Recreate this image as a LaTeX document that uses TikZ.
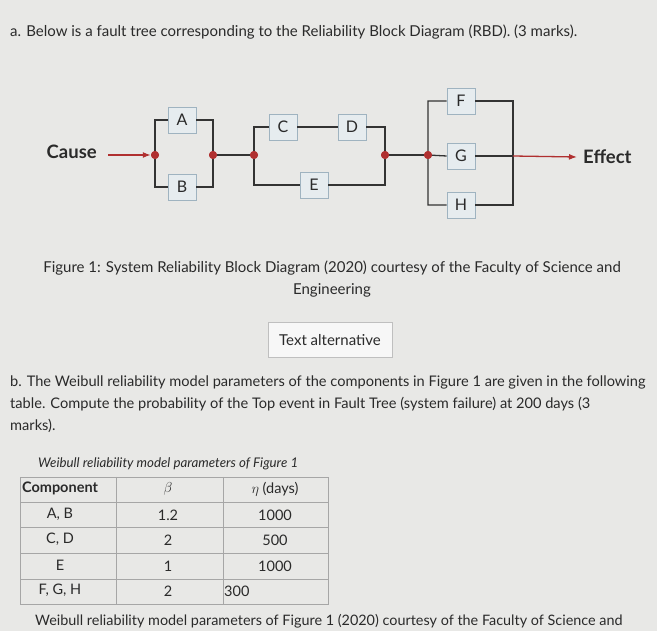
\documentclass[tikz,border=0pt]{standalone}
\usepackage{fontspec}
\setmainfont{Lato}
\usetikzlibrary{arrows.meta}
\definecolor{bg}{HTML}{E8E8E6}
\definecolor{boxf}{HTML}{E6ECEF}
\definecolor{boxd}{HTML}{9FB3C0}
\definecolor{ln}{HTML}{333333}
\definecolor{rd}{HTML}{B03030}
\definecolor{tx}{HTML}{2A2A2A}
\begin{document}
\begin{tikzpicture}[x=1pt,y=-1pt,
  comp/.style={draw=boxd,fill=boxf,line width=0.9pt,minimum width=28pt,minimum height=26pt,inner sep=0pt,font=\fontsize{16}{16}\selectfont,text=tx},
  jn/.style={circle,fill=rd,inner sep=0pt,minimum size=8pt},
  wire/.style={draw=ln,line width=1.3pt},
  body/.style={font=\fontsize{15}{22}\selectfont,text=tx,inner sep=0pt},
  cell/.style={font=\fontsize{14.5}{16}\selectfont,text=tx,inner sep=0pt}]
\fill[bg] (0,0) rectangle (657,631);
\useasboundingbox (0,0) rectangle (657,631);
\node[body,anchor=west] (qa) at (10,32) {a. Below is a fault tree corresponding to the Reliability Block Diagram (RBD). (3 marks).};
% RBD
\node[body,anchor=east,font=\fontsize{18.5}{20}\bfseries\selectfont] (cause) at (97,152) {Cause};
\node[jn] (j1) at (155,155) {};
\node[comp] (A) at (182,120) {A};
\node[comp] (B) at (182,187) {B};
\node[jn] (j2) at (213,155) {};
\node[jn] (j3) at (254,155) {};
\node[comp] (C) at (283,127) {C};
\node[comp] (D) at (352,127) {D};
\node[comp] (E) at (314,185) {E};
\node[jn] (j4) at (385,155) {};
\node[jn] (j5) at (428,155) {};
\node[comp] (F) at (461,101) {F};
\node[comp] (G) at (461,156) {G};
\node[comp] (H) at (461,205) {H};
\coordinate (j6) at (513,156);
\node[body,anchor=west,font=\fontsize{18.5}{20}\bfseries\selectfont] (effect) at (583,157) {Effect};
\draw[rd,line width=1.3pt,-{Latex[length=8pt]}] (cause.east)+(11,3) -- (j1);
\draw[wire] (j1) |- (A.west) (j1) |- (B.west) (A.east) -| (j2) (B.east) -| (j2);
\draw[wire] (j2) -- (j3);
\draw[wire] (j3) |- (C.west) (C.east) -- (D.west) (D.east) -| (j4) (j3) |- (E.west) (E.east) -| (j4);
\draw[wire] (j4) -- (j5);
\draw[wire] (j5) |- (F.west) (j5) -- (G.west) (j5) |- (H.west);
\draw[wire] (F.east) -| (j6) (G.east) -- (j6) (H.east) -| (j6);
\draw[rd,line width=1.3pt,-{Latex[length=8pt]}] (j6) -- ([xshift=-6pt]effect.west);
\node[jn] at (j1) {};\node[jn] at (j2) {};\node[jn] at (j3) {};\node[jn] at (j4) {};\node[jn] at (j5) {};
\node[body,align=center] (cap) at (332,279) {Figure 1: System Reliability Block Diagram (2020) courtesy of the Faculty of Science and\\Engineering};
\node[draw=black!25,fill=black!3,line width=0.6pt,minimum width=124pt,minimum height=35pt,font=\fontsize{15}{16}\selectfont,text=tx] (alt) at (330,340) {Text alternative};
\node[body,anchor=north west,align=left,font=\fontsize{14.6}{22}\selectfont] (qb) at (10,376) {b. The Weibull reliability model parameters of the components in Figure 1 are given in the following\\table. Compute the probability of the Top event in Fault Tree (system failure) at 200 days (3\\marks).};
\node[body,anchor=west,font=\fontsize{13.3}{14}\itshape\selectfont] (tt) at (38,464) {Weibull reliability model parameters of Figure 1};
% table
\draw[black!35,line width=0.8pt] (20,477) rectangle (328,604);
\foreach \y in {502,527,553,579} \draw[black!35,line width=0.8pt] (20,\y) -- (328,\y);
\foreach \x in {116,223} \draw[black!35,line width=0.8pt] (\x,477) -- (\x,604);
\node[cell,font=\fontsize{14.5}{16}\bfseries\selectfont] (h1) at (60,488) {Component};
\node[cell] (h2) at (168,489) {$\beta$};
\node[cell] (h3) at (275,489) {$\eta$ (days)};
\node[cell] (r11) at (60,514) {A, B};
\node[cell] (r12) at (168,515) {1.2};
\node[cell] (r13) at (275,515) {1000};
\node[cell] (r21) at (60,539) {C, D};
\node[cell] (r22) at (168,540) {2};
\node[cell] (r23) at (275,540) {500};
\node[cell] (r31) at (60,565) {E};
\node[cell] (r32) at (168,566) {1};
\node[cell] (r33) at (275,566) {1000};
\node[cell] (r41) at (60,590) {F, G, H};
\node[cell] (r42) at (168,591) {2};
\node[cell,anchor=west] (r43) at (224,591) {300};
\node[body,anchor=west,font=\fontsize{14.4}{16}\selectfont] (bt) at (35,621) {Weibull reliability model parameters of Figure 1 (2020) courtesy of the Faculty of Science and};
\end{tikzpicture}
\end{document}
